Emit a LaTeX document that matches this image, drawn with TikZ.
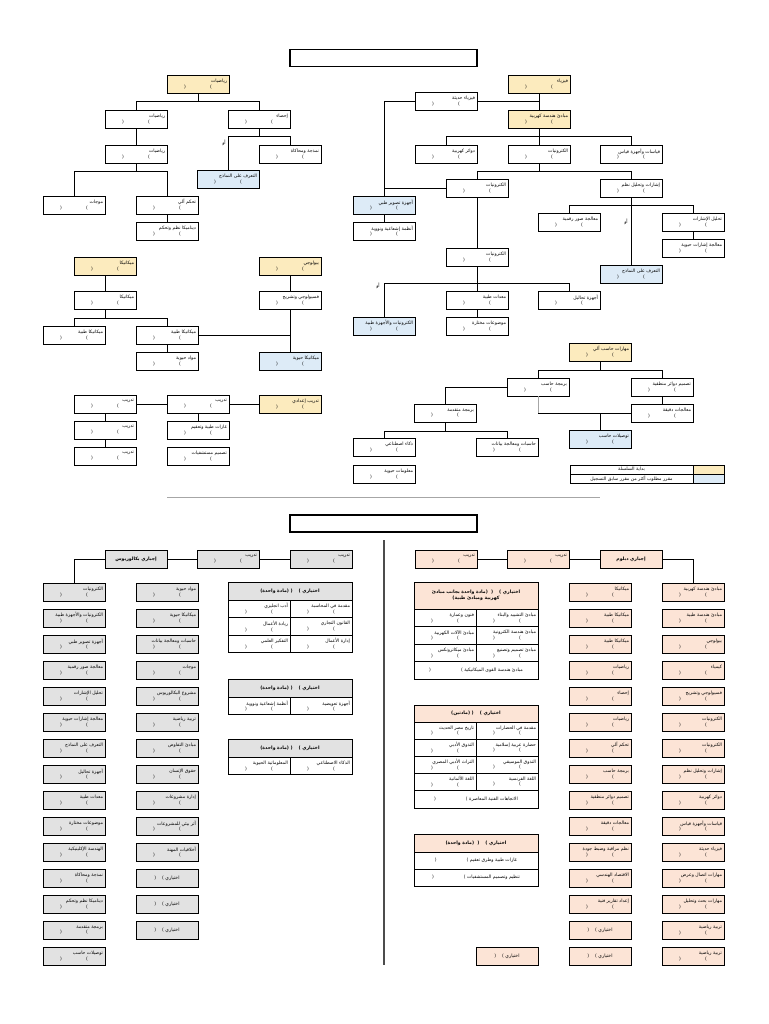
\documentclass[tikz,border=0pt]{standalone}
\usepackage{fontspec}
\setmainfont{DejaVu Sans}
\newfontfamily\ar[Script=Arabic]{DejaVu Sans}
\TeXXeTstate=1
\usetikzlibrary{shadows}
\definecolor{yel}{HTML}{FCEBBE}
\definecolor{blu}{HTML}{DDEBF7}
\definecolor{gry}{HTML}{E2E2E2}
\definecolor{pch}{HTML}{FCE4D6}
\newcommand\fs{\fontsize{4.6}{5.8}\selectfont}
\newcommand\two[1]{\parbox{58pt}{\raggedleft\ar\beginR #1\endR\par\centering (\hspace{24pt})}}
\newcommand\one[1]{{\ar\beginR #1\endR}}
\newcommand\pp[1]{\beginL(\hspace{#1})\endL}
\tikzset{
 bx/.style={draw, line width=0.7pt, minimum width=62, minimum height=18, inner sep=0pt, font=\fs},
 sh/.style={drop shadow={shadow xshift=0.9pt, shadow yshift=-0.9pt, opacity=1, fill=black}},
 gb/.style={bx, fill=gry, sh},
 pb/.style={bx, fill=pch, sh},
 cell/.style={draw, line width=0.6pt, minimum width=62, minimum height=17.5, inner sep=0pt, font=\fs},
 hd/.style={draw, line width=0.9pt, minimum width=124, minimum height=18, inner sep=0pt, font=\fs\bfseries, align=center},
 ln/.style={line width=0.7pt},
 lab/.style={font=\fs, inner sep=0pt}
}
\begin{document}
\begin{tikzpicture}[x=1pt,y=-1pt]
\useasboundingbox[fill=white] (0,0) rectangle (768,1024);
% titles
\node[draw, line width=1.6pt, minimum width=187, minimum height=17] (title1) at (383.5,58) {};
\node[draw, line width=1.6pt, minimum width=187, minimum height=17] (title2) at (383.5,523.5) {};
% ---------- top left
\node[bx,fill=yel] (m0) at (198,84) {\two{رياضيات}};
\node[bx] (m1) at (136,119) {\two{رياضيات}};
\node[bx] (st) at (259,119) {\two{إحصاء}};
\node[bx] (m2) at (136,154) {\two{رياضيات}};
\node[bx] (nm) at (290,154) {\two{نمذجة ومحاكاة}};
\node[bx,fill=blu] (pr1) at (228,179) {\two{التعرف على النماذج}};
\node[bx] (mw) at (74,205) {\two{موجات}};
\node[bx] (tk) at (167,205) {\two{تحكم آلي}};
\node[bx] (dn) at (167,231) {\two{ديناميكا نظم وتحكم}};
\draw[ln] (m0.south) -- ++(0,8.5) -| (m1.north);
\draw[ln] (m0.south) -- ++(0,8.5) -| (st.north);
\draw[ln] (m1) -- (m2);
\draw[ln] (st.south) -- ++(0,8.5) -| (nm.north);
\draw[ln] (st.south) -- ++(0,8.5) -| (pr1.north);
\draw[ln] (m2.south) -- ++(0,8.5) -| (mw.north);
\draw[ln] (m2.south) -- ++(0,8.5) -| (tk.north);
\draw[ln] (tk) -- (dn);
\node[lab] (or1) at (224,143) {\one{أو}};
% ---------- top right
\node[bx,fill=yel] (ph) at (539,84) {\two{فيزياء}};
\node[bx] (mp) at (446,101) {\two{فيزياء حديثة}};
\node[bx,fill=yel] (eb) at (539,119) {\two{مبادئ هندسة كهربية}};
\node[bx] (dc) at (446,154) {\two{دوائر كهربية}};
\node[bx] (e1) at (539,154) {\two{الكترونيات}};
\node[bx] (qm) at (631,154) {\two{قياسات وأجهزة قياس}};
\node[bx] (e2) at (477,188) {\two{الكترونيات}};
\node[bx] (sg) at (631,188) {\two{إشارات وتحليل نظم}};
\node[bx,fill=blu] (im) at (384,205) {\two{أجهزة تصوير طبي}};
\node[bx] (rad) at (384,231) {\two{أنظمة إشعاعية ونووية}};
\node[bx] (dip) at (569,222) {\two{معالجة صور رقمية}};
\node[bx] (sa) at (693,222) {\two{تحليل الإشارات}};
\node[bx] (bsp) at (693,248) {\two{معالجة إشارات حيوية}};
\node[bx] (e3) at (477,257) {\two{الكترونيات}};
\node[bx,fill=blu] (pr2) at (631,274) {\two{التعرف على النماذج}};
\node[bx] (ana) at (569,300) {\two{أجهزة تحاليل}};
\node[bx] (med) at (477,300) {\two{معدات طبية}};
\node[bx,fill=blu] (eme) at (384,326) {\two{الكترونيات والأجهزة طبية}};
\node[bx] (sel) at (477,326) {\two{موضوعات مختارة}};
\draw[ln] (ph) -- (eb);
\draw[ln] (mp.east) -- (ph.south |- mp.east);
\draw[ln] (mp.west) -| (im.north);
\draw[ln] (e2.west) -- (im.north |- e2.west);
\draw[ln] (eb.south) -- ++(0,8.5) -| (dc.north);
\draw[ln] (eb.south) -- ++(0,8.5) -| (qm.north);
\draw[ln] (eb) -- (e1);
\draw[ln] (e1.south) -- ++(0,8.5) -| (e2.north);
\draw[ln] (e1.south) -- ++(0,8.5) -| (sg.north);
\draw[ln] (sg.south) -- ++(0,8.5) -| (dip.north);
\draw[ln] (sg.south) -- ++(0,8.5) -| (sa.north);
\draw[ln] (sg) -- (pr2);
\draw[ln] (sa) -- (bsp);
\draw[ln] (im) -- (rad);
\draw[ln] (e2) -- (e3);
\draw[ln] (e3.south) -- ++(0,17) -| (eme.north);
\draw[ln] (e3.south) -- ++(0,17) -| (ana.north);
\draw[ln] (e3) -- (med);
\draw[ln] (med) -- (sel);
\node[lab] (or2) at (626,222) {\one{أو}};
\node[lab] (or3) at (378,286) {\one{أو}};
% ---------- middle left
\node[bx,fill=yel] (k0) at (105,266) {\two{ميكانيكا}};
\node[bx] (k1) at (105,300) {\two{ميكانيكا}};
\node[bx] (km1) at (74,335) {\two{ميكانيكا طبية}};
\node[bx] (km2) at (167,335) {\two{ميكانيكا طبية}};
\node[bx] (bm) at (167,361) {\two{مواد حيوية}};
\node[bx,fill=yel] (b0) at (290,266) {\two{بيولوجي}};
\node[bx] (fs) at (290,300) {\two{فسيولوجي وتشريح}};
\node[bx,fill=blu] (bmc) at (290,361) {\two{ميكانيكا حيوية}};
\draw[ln] (k0) -- (k1);
\draw[ln] (k1.south) -- ++(0,8.5) -| (km1.north);
\draw[ln] (k1.south) -- ++(0,8.5) -| (km2.north);
\draw[ln] (km2) -- (bm);
\draw[ln] (b0) -- (fs);
\draw[ln] (fs) -- (bmc);
\draw[ln] (km2.east) -- (fs.south |- km2.east);
\node[bx] (t2) at (105,404) {\two{تدريب}};
\node[bx] (t1) at (198,404) {\two{تدريب}};
\node[bx,fill=yel] (t0) at (290,404) {\two{تدريب إعدادي}};
\node[bx] (t2b) at (105,430) {\two{تدريب}};
\node[bx] (gz) at (198,430) {\two{غازات طبية وتعقيم}};
\node[bx] (t2c) at (105,456) {\two{تدريب}};
\node[bx] (hsp) at (198,456) {\two{تصميم مستشفيات}};
\draw[ln] (t0) -- (t1);
\draw[ln] (t1) -- (t2);
\draw[ln] (t1) -- (gz);
\draw[ln] (t2) -- (t2b);
\draw[ln] (t2b) -- (t2c);
% ---------- middle right
\node[bx,fill=yel] (cs) at (600,352) {\two{مهارات حاسب آلي}};
\node[bx] (pg) at (538,387) {\two{برمجة حاسب}};
\node[bx] (ld) at (662,387) {\two{تصميم دوائر منطقية}};
\node[bx] (ap) at (445,413) {\two{برمجة متقدمة}};
\node[bx] (mp2) at (662,413) {\two{معالجات دقيقة}};
\node[bx] (ai) at (384,447) {\two{ذكاء اصطناعي}};
\node[bx] (cdp) at (507,447) {\two{حاسبات ومعالجة بيانات}};
\node[bx,fill=blu] (tc) at (600,439) {\two{توصيلات حاسب}};
\node[bx] (bio) at (384,474) {\two{معلومات حيوية}};
\draw[ln] (cs.south) -- ++(0,9) -| (pg.north);
\draw[ln] (cs.south) -- ++(0,9) -| (ld.north);
\draw[ln] (pg.west) -| (ap.north);
\draw[ln] (ld) -- (mp2);
\draw[gray!70, line width=0.5pt] (pg.south) -- (pg.south |- mp2.west);
\draw[ln] (pg.south |- mp2.west) -- (mp2.west);
\draw[ln] (tc.north) -- (tc.north |- mp2.west);
\draw[ln] (ap.south) -- ++(0,8.5) -| (ai.north);
\draw[ln] (ap.south) -- ++(0,8.5) -| (cdp.north);
% legend
\node[draw, line width=0.6pt, minimum width=123, minimum height=9, inner sep=0pt, font=\fs] (lg1) at (631.5,469.5) {\one{بداية السلسلة}};
\node[draw, line width=0.6pt, minimum width=123, minimum height=9, inner sep=0pt, font=\fs] (lg2) at (631.5,478.5) {\one{مقرر مطلوب أكثر من مقرر سابق التسجيل}};
\node[draw, line width=0.6pt, fill=yel, minimum width=31, minimum height=9, inner sep=0pt] (sw1) at (708.5,469.5) {};
\node[draw, line width=0.6pt, fill=blu, minimum width=31, minimum height=9, inner sep=0pt] (sw2) at (708.5,478.5) {};
% separators
\draw[gray!70, line width=0.8pt] (167,497) -- (600,497);
\draw[gray!60!black, line width=1.4pt] (384,540) -- (384,965);
% ---------- bottom left
\node[gb, font=\fs\bfseries] (bb) at (136,559) {\one{إجباري بكالوريوس}};
\node[gb] (tb1) at (228,559) {\two{تدريب}};
\node[gb] (tb2) at (321,559) {\two{تدريب}};
\draw[ln] (bb) -- (tb1);
\draw[ln] (tb1) -- (tb2);
\foreach \t [count=\i from 0] in {الكترونيات,الكترونيات والأجهزة طبية,أجهزة تصوير طبي,معالجة صور رقمية,تحليل الإشارات,معالجة إشارات حيوية,التعرف على النماذج,أجهزة تحاليل,معدات طبية,موضوعات مختارة,الهندسة الإكلينيكية,نمذجة ومحاكاة,ديناميكا نظم وتحكم,برمجة متقدمة,توصيلات حاسب}
  \node[gb] (lc\i) at (74,592+26*\i) {\two{\t}};
\foreach \t [count=\i from 0] in {مواد حيوية,ميكانيكا حيوية,حاسبات ومعالجة بيانات,موجات,مشروع البكالوريوس,تربية رياضية,مبادئ التفاوض,حقوق الإنسان,إدارة مشروعات,أثر بيئي للمشروعات,أخلاقيات المهنة}
  \node[gb] (lm\i) at (167,592+26*\i) {\two{\t}};
\foreach \i in {11,12,13}
  \node[gb] (lm\i) at (167,592+26*\i) {\one{اختياري \pp{6pt}}};
\draw[ln] (bb.west) -| (lc0.north);
% left tables
\node[hd, fill=gry] (ta1) at (290,591) {\one{اختياري \pp{6pt} (مادة واحدة)}};
\node[cell] (ta1a) at (321,608.75) {\two{مقدمة في المحاسبة}};
\node[cell] (ta1b) at (259,608.75) {\two{أدب انجليزي}};
\node[cell] (ta1c) at (321,626.25) {\two{القانون التجاري}};
\node[cell] (ta1d) at (259,626.25) {\two{ريادة الأعمال}};
\node[cell] (ta1e) at (321,643.75) {\two{إدارة الأعمال}};
\node[cell] (ta1f) at (259,643.75) {\two{التفكير العلمي}};
\draw[line width=1pt] (228,582) rectangle (352,652.5);
\node[hd, fill=gry] (ta2) at (290,688.5) {\one{اختياري \pp{6pt} (مادة واحدة)}};
\node[cell] (ta2a) at (321,706) {\two{أجهزة تعويضية}};
\node[cell] (ta2b) at (259,706) {\two{أنظمة إشعاعية ونووية}};
\draw[line width=1pt] (228,679.5) rectangle (352,714.75);
\node[hd, fill=gry] (ta3) at (290,748.5) {\one{اختياري \pp{6pt} (مادة واحدة)}};
\node[cell] (ta3a) at (321,766) {\two{الذكاء الاصطناعي}};
\node[cell] (ta3b) at (259,766) {\two{المعلوماتية الحيوية}};
\draw[line width=1pt] (228,739.5) rectangle (352,774.75);
% ---------- bottom right
\node[pb, font=\fs\bfseries] (db) at (631,559) {\one{إجباري دبلوم}};
\node[pb] (td1) at (538,559) {\two{تدريب}};
\node[pb] (td2) at (446,559) {\two{تدريب}};
\draw[ln] (db) -- (td1);
\draw[ln] (td1) -- (td2);
\foreach \t [count=\i from 0] in {مبادئ هندسة كهربية,مبادئ هندسة طبية,بيولوجي,كيمياء,فسيولوجي وتشريح,الكترونيات,الكترونيات,إشارات وتحليل نظم,دوائر كهربية,قياسات وأجهزة قياس,فيزياء حديثة,مهارات اتصال وعرض,مهارات بحث وتحليل,تربية رياضية,تربية رياضية}
  \node[pb] (rc\i) at (693,592+26*\i) {\two{\t}};
\foreach \t [count=\i from 0] in {ميكانيكا,ميكانيكا طبية,ميكانيكا طبية,رياضيات,إحصاء,رياضيات,تحكم آلي,برمجة حاسب,تصميم دوائر منطقية,معالجات دقيقة,نظم مراقبة وضبط جودة,الاقتصاد الهندسي,إعداد تقارير فنية}
  \node[pb] (rm\i) at (600,592+26*\i) {\two{\t}};
\foreach \i in {13,14}
  \node[pb] (rm\i) at (600,592+26*\i) {\one{اختياري \pp{6pt}}};
\node[pb] (rx) at (507,956) {\one{اختياري \pp{6pt}}};
\draw[ln] (db.east) -| (rc0.north);
% right tables
\node[hd, fill=pch, minimum height=27] (tb) at (476,595.5) {\one{اختياري \pp{6pt} \ (مادة واحدة بجانب مبادئ}\\\one{كهربية ومبادئ طبية)}};
\node[cell] (tba) at (507,617.75) {\two{مبادئ التشييد والبناء}};
\node[cell] (tbb) at (445,617.75) {\two{فنون وعمارة}};
\node[cell] (tbc) at (507,635.25) {\two{مبادئ هندسة الكترونية}};
\node[cell] (tbd) at (445,635.25) {\two{مبادئ الآلات الكهربية}};
\node[cell] (tbe) at (507,652.75) {\two{مبادئ تصميم وتصنيع}};
\node[cell] (tbf) at (445,652.75) {\two{مبادئ ميكاترونكس}};
\node[cell, minimum width=124, minimum height=18] (tbg) at (476,670.5) {\one{مبادئ هندسة القوى الميكانيكية \pp{30pt}}};
\draw[line width=1pt] (414,582) rectangle (538,679.5);
\node[hd, fill=pch, minimum height=17] (tcb) at (476,713.5) {\one{اختياري \pp{6pt} (مادتين)}};
\foreach \a/\b [count=\i from 0] in {مقدمة في الحضارات/تاريخ مصر الحديث,حضارة عربية إسلامية/التذوق الأدبي,التذوق الموسيقي/التراث الأدبي المصري,اللغة الفرنسية/اللغة الألمانية}{
  \node[cell, minimum height=17] (tcr\i) at (507,730.5+17*\i) {\two{\a}};
  \node[cell, minimum height=17] (tcl\i) at (445,730.5+17*\i) {\two{\b}};
}
\node[cell, minimum width=124, minimum height=18] (tcg) at (476,799) {\one{الاتجاهات الفنية المعاصرة \pp{30pt}}};
\draw[line width=1pt] (414,705) rectangle (538,808);
\node[hd, fill=pch] (tdh) at (476,843) {\one{اختياري \pp{6pt} \ (مادة واحدة)}};
\node[cell, minimum width=124, minimum height=17] (tda) at (476,860.5) {\one{غازات طبية وطرق تعقيم \pp{30pt}}};
\node[cell, minimum width=124, minimum height=17] (tdb) at (476,877.5) {\one{تنظيم وتصميم المستشفيات \pp{30pt}}};
\draw[line width=1pt] (414,834) rectangle (538,886);
\end{tikzpicture}
\end{document}
